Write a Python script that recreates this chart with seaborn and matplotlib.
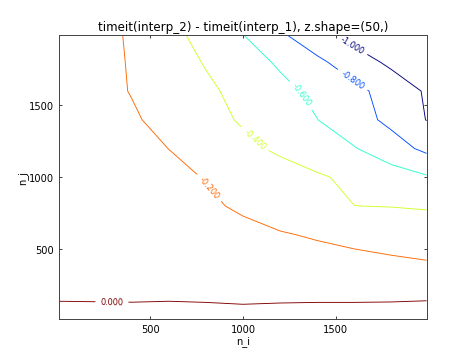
import numpy as np
import seaborn as sns
from matplotlib import pyplot as plt

# grid sizes (n_i along x, n_j along y)
n_i = [10, 200, 400, 600, 800, 1000, 1200, 1400, 1600, 1800, 1990]
n_j = [10, 200, 400, 600, 800, 1000, 1200, 1400, 1600, 1800, 1990]

# timing difference, one row per n_j value
dt_j10 = [0.05, 0.05, 0.048, 0.05, 0.05, 0.05, 0.05, 0.05, 0.05, 0.05, 0.05]
dt_j200 = [-0.025, -0.027, -0.028, -0.025, -0.03, -0.04, -0.033, -0.03, -0.03, -0.028, -0.023]
dt_j400 = [-0.02, -0.036, -0.053, -0.07, -0.087, -0.103, -0.12, -0.137, -0.153, -0.17, -0.187]
dt_j600 = [-0.03, -0.055, -0.082, -0.108, -0.135, -0.161, -0.188, -0.216, -0.246, -0.275, -0.305]
dt_j800 = [-0.04, -0.073, -0.108, -0.142, -0.177, -0.221, -0.28, -0.34, -0.399, -0.405, -0.415]
dt_j1000 = [-0.05, -0.087, -0.126, -0.165, -0.206, -0.263, -0.32, -0.377, -0.442, -0.511, -0.58]
dt_j1200 = [-0.06, -0.105, -0.153, -0.201, -0.277, -0.354, -0.431, -0.51, -0.589, -0.713, -0.845]
dt_j1400 = [-0.07, -0.123, -0.179, -0.253, -0.336, -0.42, -0.509, -0.597, -0.718, -0.848, -1.005]
dt_j1600 = [-0.08, -0.141, -0.207, -0.287, -0.366, -0.455, -0.549, -0.647, -0.75, -0.876, -1.023]
dt_j1800 = [-0.08, -0.142, -0.212, -0.312, -0.412, -0.516, -0.625, -0.759, -0.899, -1.041, -1.18]
dt_j2000 = [-0.08, -0.143, -0.218, -0.341, -0.467, -0.596, -0.77, -0.925, -1.075, -1.17, -1.25]

levels = [-1.0, -0.8, -0.6, -0.4, -0.2, 0.0]

sns.set_theme(style="white")
plt.rcParams.update({
    'font.family': ['DejaVu Sans'],
    'font.size': 12,
    'axes.titlesize': 14.4,
    'axes.labelsize': 12,
    'xtick.labelsize': 12,
    'ytick.labelsize': 12,
    'text.color': 'black',
    'axes.labelcolor': 'black',
    'xtick.direction': 'in',
    'ytick.direction': 'in',
    'xtick.top': True,
    'ytick.right': True,
    'xtick.major.size': 4,
    'ytick.major.size': 4,
    'xtick.major.pad': 6,
    'ytick.major.pad': 6,
    'xtick.bottom': True,
    'ytick.left': True,
    'axes.edgecolor': '#444444',
    'axes.linewidth': 1.2,
    'xtick.color': '#444444',
    'ytick.color': '#444444',
    'xtick.labelcolor': 'black',
    'ytick.labelcolor': 'black',
})

Z = np.array([dt_j10, dt_j200, dt_j400, dt_j600, dt_j800, dt_j1000,
              dt_j1200, dt_j1400, dt_j1600, dt_j1800, dt_j2000])

fig = plt.figure(figsize=(8, 6), dpi=59.25)
ax = fig.add_axes([0.125, 0.1, 0.775, 0.8])
cs = ax.contour(n_i, n_j, Z, levels=levels, cmap='jet', vmin=-1.0, vmax=0.0,
                linewidths=1.1)
ax.clabel(cs, fmt='%1.3f', fontsize=10, inline=True,
          manual=[(1588, 1922), (1598, 1690), (1354, 1605),
                  (1039, 1232), (827, 936), (294, 134)])
ax.set_xticks([500, 1000, 1500])
ax.set_yticks([500, 1000, 1500])
ax.set_xlabel('n_i', labelpad=1)
ax.set_ylabel('n_j', labelpad=1)
ax.set_title('timeit(interp_2) - timeit(interp_1), z.shape=(50,)', color='black')

fig.savefig('out.png', dpi=59.25)
